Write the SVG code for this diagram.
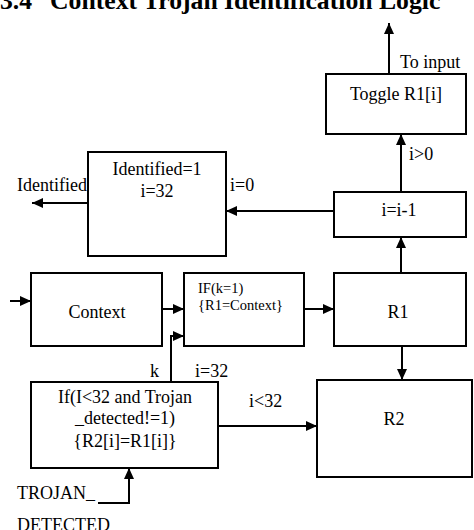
<svg xmlns="http://www.w3.org/2000/svg" width="474" height="530" viewBox="0 0 474 530">
<defs>
<marker id="ah" markerUnits="userSpaceOnUse" markerWidth="12" markerHeight="10" refX="11" refY="5" orient="auto">
<path d="M0,0 L11,5 L0,10 Z" fill="#000"/>
</marker>
<style>
.box{fill:#fff;stroke:#000;stroke-width:2}
.t{font-family:"Liberation Serif","Times New Roman",serif;font-size:18px;fill:#000}
.s{font-family:"Liberation Serif","Times New Roman",serif;font-size:14.5px;fill:#000}
.c{text-anchor:middle}
.ln{fill:none;stroke:#000;stroke-width:2;marker-end:url(#ah)}
</style>
</defs>
<rect width="474" height="530" fill="#fff"/>
<g id="title">
<text x="0" y="9" font-family="Liberation Serif, serif" font-weight="bold" font-size="25.7">3.4</text>
<text x="50" y="9" font-family="Liberation Serif, serif" font-weight="bold" font-size="25.7">Context Trojan Identification Logic</text>
</g>
<g id="connectors">
<path class="ln" d="M389,74 L389,23"/>
<path class="ln" d="M401,192 L401,134"/>
<path class="ln" d="M401,273 L401,237"/>
<path class="ln" d="M334,211 L226,211"/>
<path class="ln" d="M88,203 L32,203"/>
<path class="ln" d="M10,301 L31,301"/>
<path class="ln" d="M162,309 L184,309"/>
<path class="ln" d="M304,309 L334,309"/>
<path class="ln" d="M171,382 L171,336 L184,336"/>
<path class="ln" d="M402,346 L402,380"/>
<path class="ln" d="M218,426 L317,426"/>
<path class="ln" d="M98,503 L129,503 L129,468"/>
<text class="t" x="400" y="68">To input</text>
<text class="t" x="409" y="160">i&gt;0</text>
<text class="t" x="230" y="191">i=0</text>
<text class="t" x="17" y="191">Identified</text>
<text class="t" x="150" y="377">k</text>
<text class="t" x="195" y="377">i=32</text>
<text class="t" x="249" y="407">i&lt;32</text>
<text class="t" x="17" y="499">TROJAN_</text>
<text class="t" x="17" y="531">DETECTED</text>
</g>
<g id="toggle">
<rect class="box" x="326" y="74" width="140" height="60"/>
<text class="t c" x="396" y="100">Toggle R1[i]</text>
</g>
<g id="identified">
<rect class="box" x="88" y="152" width="138" height="104"/>
<text class="t c" x="157" y="175">Identified=1</text>
<text class="t c" x="157" y="197">i=32</text>
</g>
<g id="decrement">
<rect class="box" x="334" y="192" width="132" height="45"/>
<text class="t c" x="399" y="216">i=i-1</text>
</g>
<g id="context">
<rect class="box" x="31" y="273" width="131" height="73"/>
<text class="t c" x="97" y="318">Context</text>
</g>
<g id="ifk">
<rect class="box" x="184" y="273" width="120" height="73"/>
<text class="s" x="198" y="293">IF(k=1)</text>
<text class="s" x="198" y="310">{R1=Context}</text>
</g>
<g id="r1">
<rect class="box" x="334" y="273" width="132" height="73"/>
<text class="t c" x="398" y="318">R1</text>
</g>
<g id="cond">
<rect class="box" x="31" y="382" width="187" height="86"/>
<text class="t c" x="125" y="403">If(I&lt;32 and Trojan</text>
<text class="t c" x="125" y="424">_detected!=1)</text>
<text class="t c" x="125" y="447">{R2[i]=R1[i]}</text>
</g>
<g id="r2">
<rect class="box" x="317" y="380" width="155" height="97"/>
<text class="t c" x="394" y="425">R2</text>
</g>
</svg>
